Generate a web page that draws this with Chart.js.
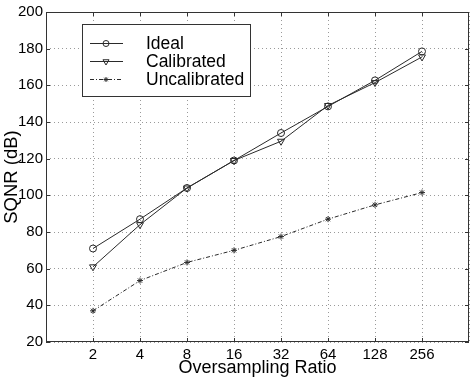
<!DOCTYPE html>
<html>
<head>
<meta charset="utf-8">
<script src="https://cdn.jsdelivr.net/npm/chart.js@4"></script>
<style>
  html, body { margin: 0; padding: 0; background: #fff; }
  #wrap { width: 474px; height: 380px; }
</style>
</head>
<body>
<div id="wrap"><canvas id="c"></canvas></div>
<script>
// oversampling ratios (x axis, log2 spaced)
const ratios = [2, 4, 8, 16, 32, 64, 128, 256];
const yTicks = [20, 40, 60, 80, 100, 120, 140, 160, 180, 200];

// SQNR in dB
const ideal        = [71, 87, 104, 119, 134, 148.5, 162.7, 178.5];
const calibrated   = [61, 84, 104, 119, 129.5, 149, 161.5, 175.5];
const uncalibrated = [37, 53.5, 63.4, 70, 77.5, 87, 94.8, 101.5];

const toPts = vals => vals.map((v, i) => ({ x: Math.log2(ratios[i]), y: v }));

const lineCol = '#2a2a2a';
const fam = '"Liberation Sans", Arial, sans-serif';
const famNarrow = '"Liberation Sans Narrow", "Arial Narrow", "Liberation Sans", sans-serif';

// box around the plot + little inner tick marks, matlab style
const frame = {
  id: 'frame',
  afterDraw(chart) {
    const { ctx, chartArea: a, scales } = chart;
    ctx.save();
    ctx.strokeStyle = '#333';
    ctx.lineWidth = 1;
    ctx.strokeRect(a.left + 0.5, a.top + 0.5, a.right - a.left - 1, a.bottom - a.top - 1);
    ctx.beginPath();
    yTicks.forEach(t => {
      const y = Math.round(scales.y.getPixelForValue(t)) + 0.5;
      ctx.moveTo(a.left, y); ctx.lineTo(a.left + 4, y);
      ctx.moveTo(a.right, y); ctx.lineTo(a.right - 4, y);
    });
    ratios.forEach(r => {
      const x = Math.round(scales.x.getPixelForValue(Math.log2(r))) + 0.5;
      ctx.moveTo(x, a.bottom); ctx.lineTo(x, a.bottom - 4);
      ctx.moveTo(x, a.top); ctx.lineTo(x, a.top + 4);
    });
    ctx.stroke();
    ctx.restore();
  }
};

// legend box drawn inside the plot, upper left
const boxLegend = {
  id: 'boxLegend',
  afterDraw(chart) {
    const { ctx } = chart;
    const bx = 82, by = 24, bw = 168, bh = 72;
    ctx.save();
    ctx.fillStyle = '#fff';
    ctx.fillRect(bx, by, bw, bh);
    ctx.strokeStyle = '#333';
    ctx.lineWidth = 1;
    ctx.strokeRect(bx + 0.5, by + 0.5, bw, bh);
    ctx.font = '17.5px ' + fam;
    ctx.textBaseline = 'middle';
    chart.data.datasets.forEach((ds, i) => {
      const y = by + 19 + i * 18;
      ctx.strokeStyle = ds.borderColor;
      ctx.lineWidth = 1;
      ctx.setLineDash(ds.borderDash || []);
      ctx.beginPath();
      ctx.moveTo(90, y + 0.5); ctx.lineTo(123, y + 0.5);
      ctx.stroke();
      ctx.setLineDash([]);
      ctx.fillStyle = ds.pointBackgroundColor;
      ctx.strokeStyle = ds.pointBorderColor;
      Chart.helpers.drawPoint(ctx, {
        pointStyle: ds.pointStyle, rotation: ds.pointRotation || 0,
        radius: ds.pointRadius - 0.5, borderWidth: 1
      }, 106, y + 0.5);
      ctx.fillStyle = '#000';
      ctx.fillText(ds.label, 146, y + 1);
    });
    ctx.restore();
  }
};

new Chart(document.getElementById('c'), {
  type: 'line',
  data: {
    datasets: [
      { label: 'Ideal', data: toPts(ideal), borderColor: lineCol, borderWidth: 1,
        pointStyle: 'circle', pointRadius: 3.5, pointBackgroundColor: 'rgba(0,0,0,0)',
        pointBorderColor: lineCol, pointBorderWidth: 1 },
      { label: 'Calibrated', data: toPts(calibrated), borderColor: lineCol, borderWidth: 1,
        pointStyle: 'triangle', pointRotation: 180, pointRadius: 4, pointBackgroundColor: 'rgba(0,0,0,0)',
        pointBorderColor: lineCol, pointBorderWidth: 1 },
      { label: 'Uncalibrated', data: toPts(uncalibrated), borderColor: lineCol, borderWidth: 1,
        borderDash: [4, 2, 1, 2],
        pointStyle: 'star', pointRadius: 3, pointBackgroundColor: lineCol,
        pointBorderColor: lineCol, pointBorderWidth: 1 }
    ]
  },
  options: {
    responsive: true,
    maintainAspectRatio: false,
    animation: false,
    layout: { padding: { top: 5, right: 1, left: 0, bottom: 0 } },
    plugins: { legend: { display: false }, tooltip: { enabled: false } },
    scales: {
      x: {
        type: 'linear', min: 0, max: 9,
        afterBuildTicks: s => { s.ticks = [0, 1, 2, 3, 4, 5, 6, 7, 8, 9].map(v => ({ value: v })); },
        afterFit: s => { s.height = 38; },
        ticks: {
          color: '#000', padding: 4, maxRotation: 0, autoSkip: false,
          font: { size: 15, family: fam },
          callback: v => (v >= 1 && v <= 8) ? String(Math.pow(2, v)) : ''
        },
        grid: { color: '#9a9a9a', drawTicks: false, lineWidth: 1 },
        border: { display: false, dash: [1, 3] },
        title: {
          display: true, text: 'Oversampling Ratio', color: '#000',
          font: { size: 18, family: famNarrow },
          padding: { top: 0, bottom: 1 }
        }
      },
      y: {
        min: 20, max: 200,
        afterBuildTicks: s => { s.ticks = yTicks.map(v => ({ value: v })); },
        afterFit: s => { s.width = 46; },
        ticks: {
          color: '#000', padding: 3,
          font: { size: 15, family: fam }
        },
        grid: { color: '#9a9a9a', drawTicks: false, lineWidth: 1 },
        border: { display: false, dash: [1, 3] },
        title: {
          display: true, text: 'SQNR (dB)', color: '#000',
          font: { size: 18.5, family: fam },
          padding: { top: 1, bottom: 0 }
        }
      }
    }
  },
  plugins: [frame, boxLegend]
});
</script>
</body>
</html>
